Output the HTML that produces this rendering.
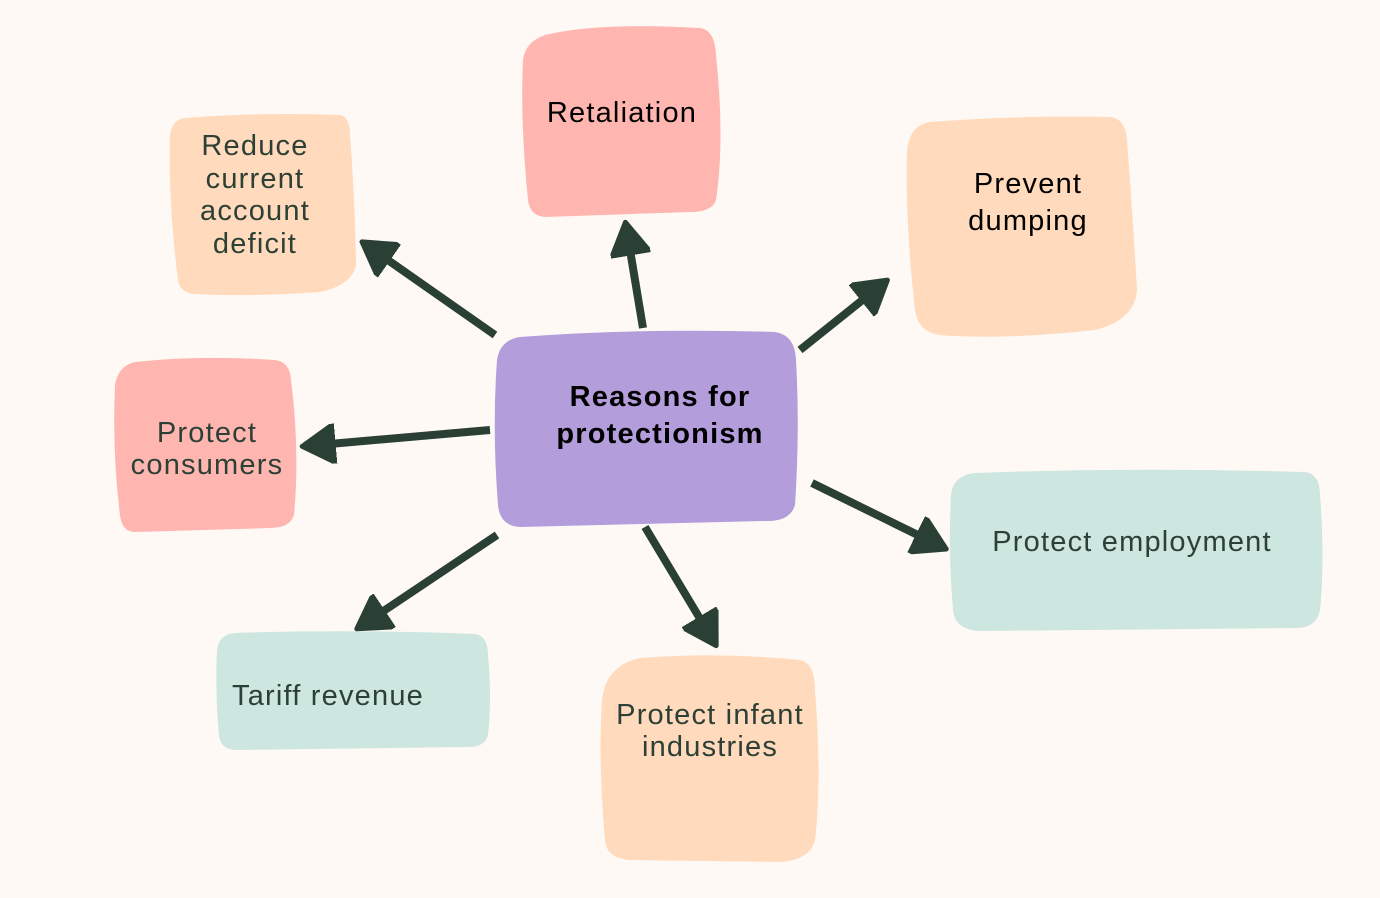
<!DOCTYPE html>
<html><head><meta charset="utf-8"><style>
html,body{margin:0;padding:0;background:#fef9f5;}
svg{display:block}
text{font-family:"Liberation Sans",sans-serif;font-size:29px;letter-spacing:1.2px;}
</style></head><body>
<svg width="1380" height="898" viewBox="0 0 1380 898" xmlns="http://www.w3.org/2000/svg">
<defs>
<marker id="ah" markerWidth="5" markerHeight="5" refX="2.2" refY="2.5" orient="auto" markerUnits="strokeWidth">
<path d="M0,0 L4.2,2.5 L0,5 Z" fill="#2a4035" stroke="#2a4035" stroke-width="0.6" stroke-linejoin="round"/>
</marker>
</defs>
<rect width="1380" height="898" fill="#fef9f5"/>
<path d="M545,35 Q600,22 700,28 Q715,30 716,55 Q725,140 716,200 Q712,212 690,212 L545,217 Q530,216 528,200 Q520,120 523,60 Q525,42 545,35 Z" fill="#ffb6b1"/>
<path d="M185,118 Q260,112 340,115 Q350,117 350,135 Q355,200 356,265 Q352,285 320,292 Q250,297 195,294 Q180,293 178,280 Q168,200 170,135 Q172,120 185,118 Z" fill="#ffdabc"/>
<path d="M930,122 Q1020,115 1110,117 Q1125,118 1127,140 Q1133,220 1137,290 Q1135,320 1095,330 Q1000,340 940,335 Q918,332 915,310 Q905,220 907,150 Q910,125 930,122 Z" fill="#ffdabc"/>
<path d="M135,362 Q200,355 275,360 Q290,362 291,380 Q300,450 294,515 Q290,528 270,528 L135,532 Q122,532 120,515 Q112,450 115,385 Q118,366 135,362 Z" fill="#ffb6b1"/>
<path d="M520,337 Q640,328 775,332 Q795,335 796,360 Q800,430 795,505 Q790,522 765,521 L520,527 Q500,526 498,505 Q492,430 497,360 Q500,340 520,337 Z" fill="#b39ddb"/>
<path d="M975,473 Q1140,467 1305,472 Q1320,474 1320,495 Q1325,560 1320,610 Q1317,628 1295,628 L980,631 Q955,630 953,610 Q948,550 951,495 Q953,475 975,473 Z" fill="#cde6df"/>
<path d="M235,633 Q350,629 475,634 Q488,636 488,655 Q492,700 488,735 Q485,748 465,747 L235,750 Q220,749 219,735 Q215,690 217,650 Q219,634 235,633 Z" fill="#cde6df"/>
<path d="M640,658 Q720,652 800,660 Q815,663 815,690 Q822,780 815,840 Q810,860 780,862 L630,860 Q606,858 605,840 Q598,760 602,700 Q606,665 640,658 Z" fill="#ffdabc"/>
<g stroke="#2a4035" stroke-width="8" stroke-linecap="butt" fill="none" marker-end="url(#ah)">
<line x1="495" y1="335" x2="375" y2="251"/>
<line x1="643" y1="328" x2="628" y2="238"/>
<line x1="800" y1="350" x2="875" y2="290"/>
<line x1="490" y1="430" x2="318" y2="445"/>
<line x1="812" y1="483" x2="932" y2="542"/>
<line x1="497" y1="535" x2="370" y2="620"/>
<line x1="645" y1="527" x2="708" y2="632"/>
</g>
<g text-anchor="middle">
<text x="622" y="122" fill="#000">Retaliation</text>
<g fill="#2d4036">
<text x="255" y="155">Reduce</text>
<text x="255" y="188">current</text>
<text x="255" y="220">account</text>
<text x="255" y="253">deficit</text>
<text x="207" y="442">Protect</text>
<text x="207" y="474">consumers</text>
<text x="710" y="724">Protect infant</text>
<text x="710" y="756">industries</text>
<text x="1132" y="551">Protect employment</text>
<text x="328" y="705">Tariff revenue</text>
</g>
<text x="1028" y="193" fill="#000">Prevent</text>
<text x="1028" y="230" fill="#000">dumping</text>
<text x="660" y="406" fill="#000" font-weight="bold">Reasons for</text>
<text x="660" y="443" fill="#000" font-weight="bold">protectionism</text>
</g>
</svg>
</body></html>
